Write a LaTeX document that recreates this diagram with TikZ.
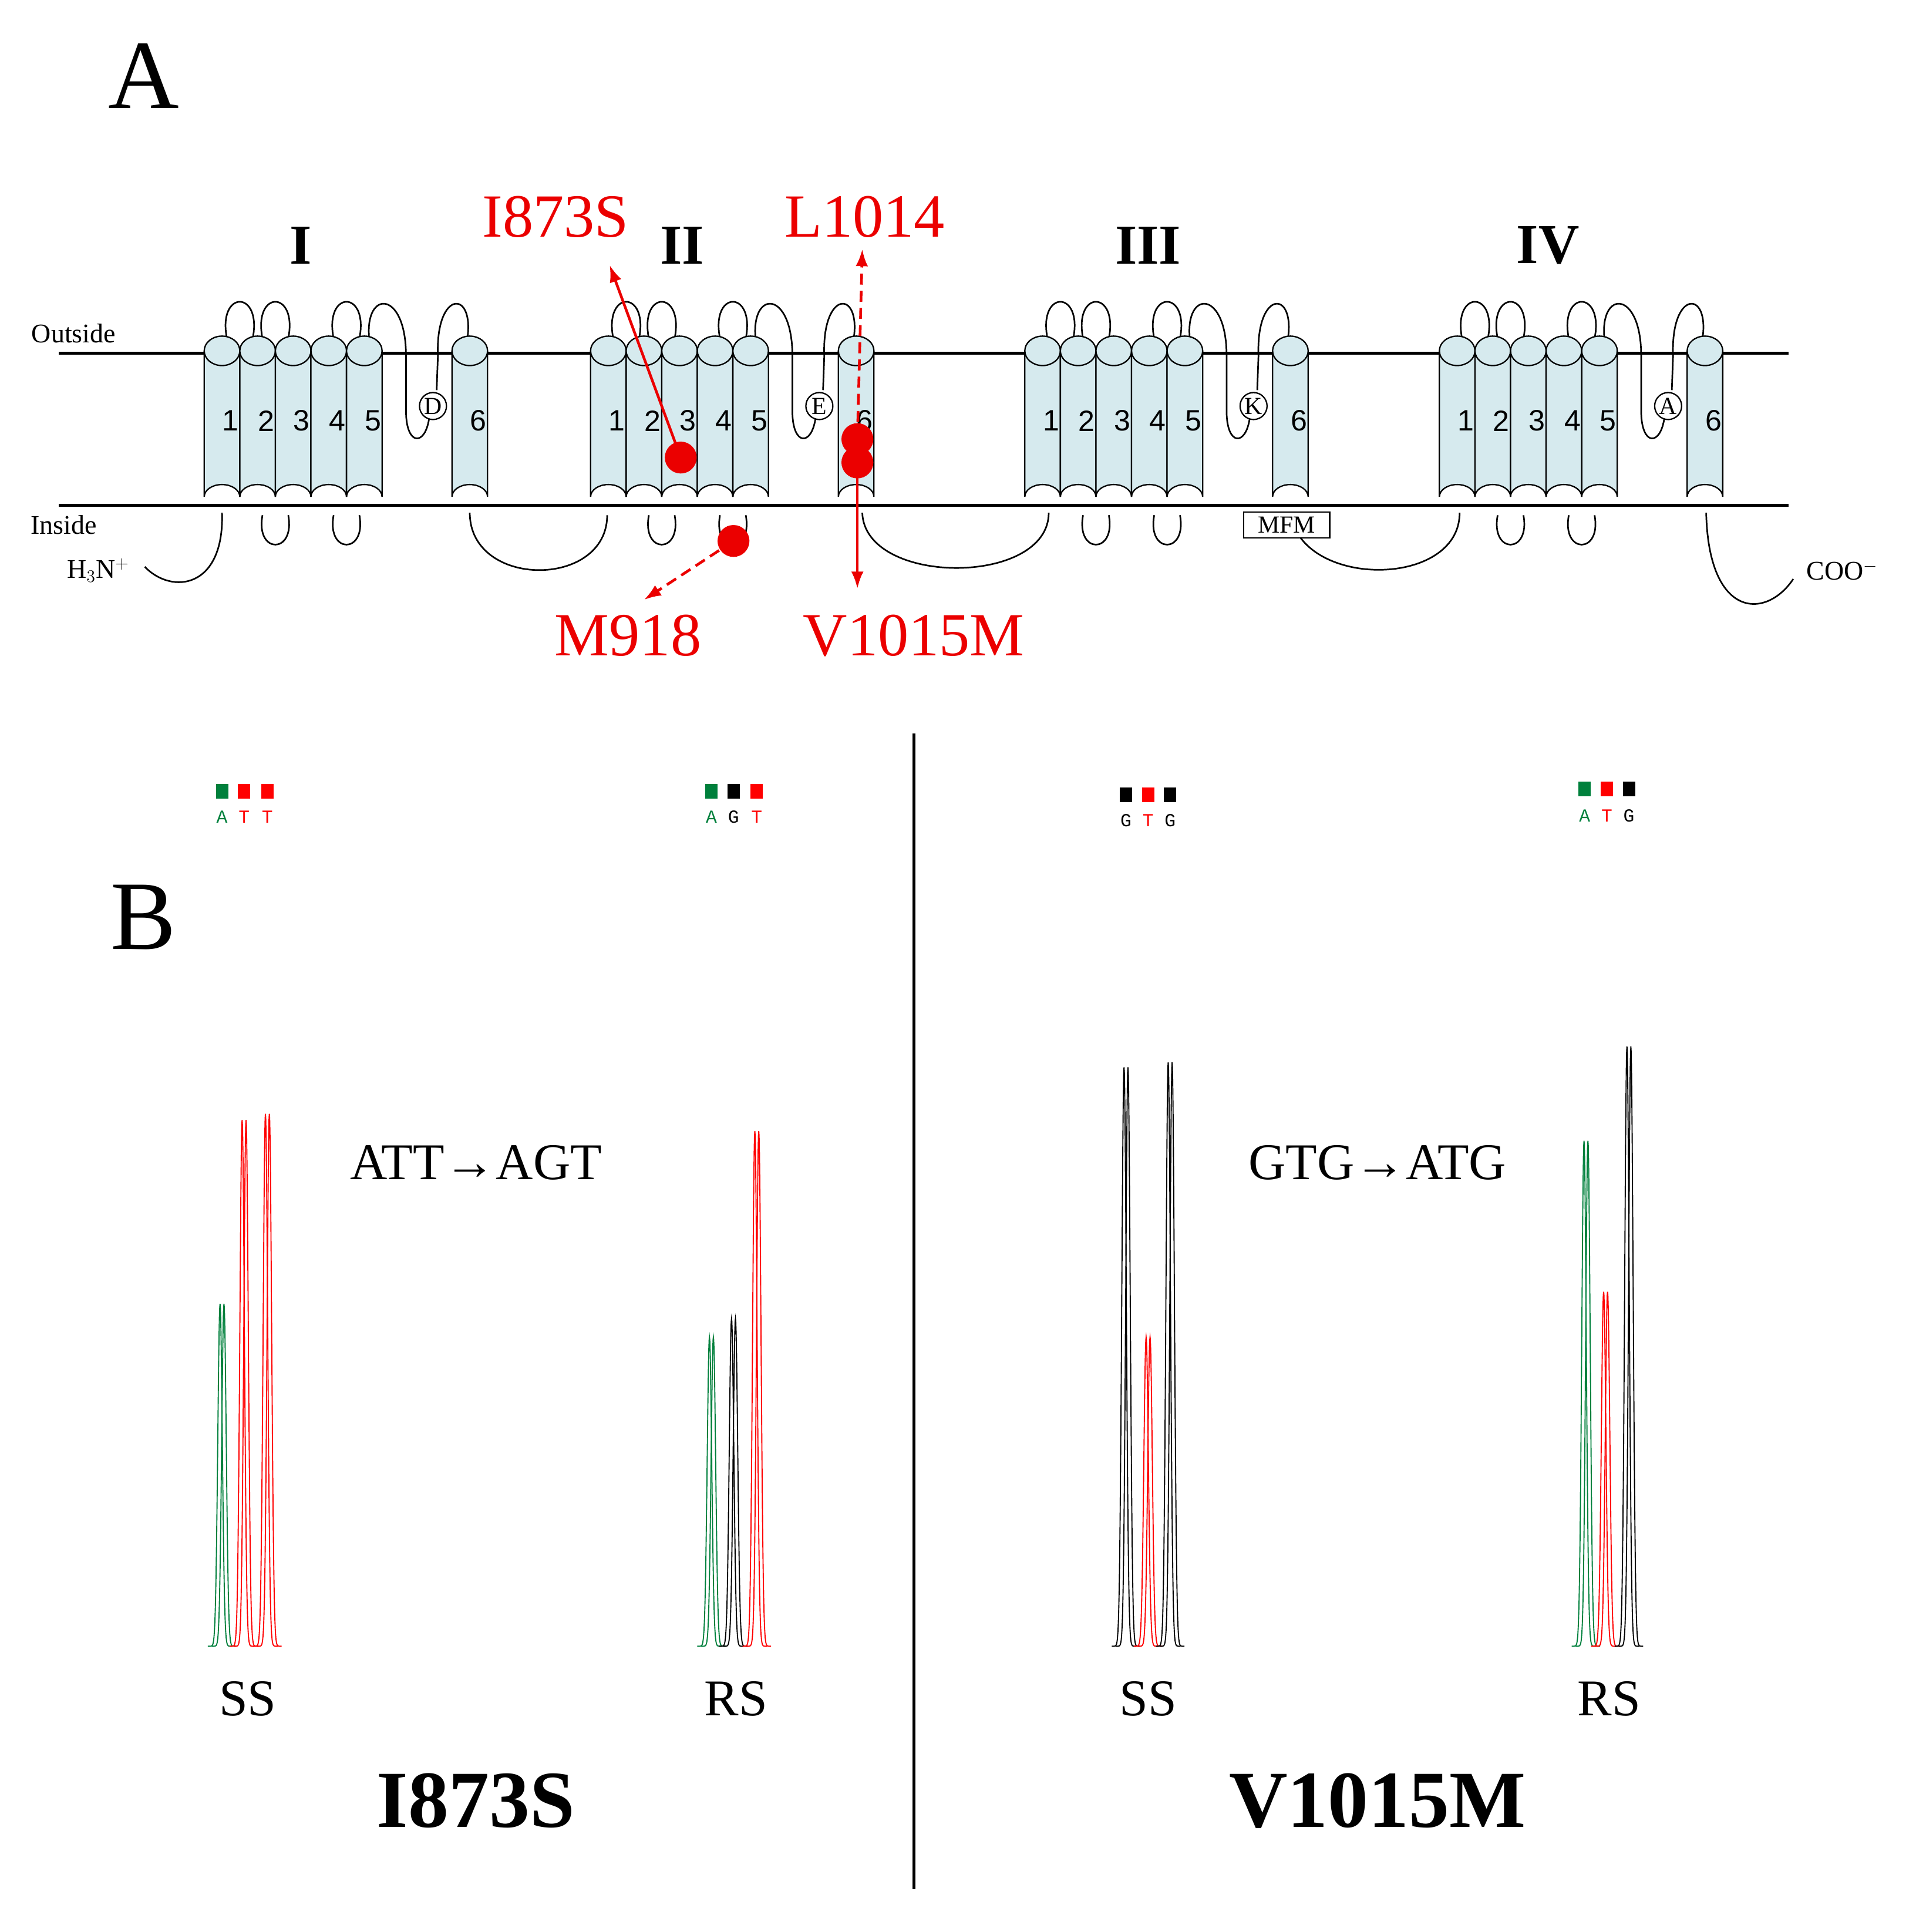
\documentclass[tikz,border=0pt]{standalone}
\usepackage{fontspec}
\usetikzlibrary{arrows.meta}
\setmainfont{Liberation Serif}
\newfontfamily\sansf{Liberation Sans}
\newfontfamily\monof{Liberation Mono}
\begin{document}
\begin{tikzpicture}[x=1pt,y=-1pt,
  lp/.style={draw=black,line width=1.3pt},
  mem/.style={draw=black,line width=2.4pt},
  dot/.style={circle,fill=mred,inner sep=0pt,minimum size=26pt},
  lbl/.style={text=mred,font=\fontsize{50}{50}\selectfont},
  rom/.style={font=\fontsize{46}{46}\selectfont\bfseries},
  num/.style={font=\sansf\fontsize{24}{24}\selectfont},
  circ/.style={circle,draw=black,line width=1.1pt,fill=white,inner sep=0pt,minimum size=22pt,font=\fontsize{20}{20}\selectfont},
  bt/.style={font=\fontsize{42}{42}\selectfont},
  big/.style={font=\fontsize{66}{66}\selectfont\bfseries},
  base/.style={font=\monof\fontsize{15}{15}\selectfont},
  marr/.style={mred,line width=2.2pt,-{Latex[length=14pt,width=10pt]}},
  mdash/.style={marr,dash pattern=on 9pt off 5pt}]
\definecolor{helixc}{RGB}{214,234,238}
\colorlet{mred}{red!92!black}
\definecolor{cgreen}{RGB}{0,128,60}
\useasboundingbox (0,0) rectangle (1562,1575);
% membrane
\draw[mem] (48,288) -- (1458,288);
\draw[mem] (48,412) -- (1458,412);
\newcommand{\helix}[2]{%
  \fill[helixc] ({#1-14.5},286) -- ({#1-14.5},405) arc[start angle=180,end angle=360,x radius=14.5,y radius=10] -- ({#1+14.5},286) -- cycle;
  \draw[line width=1.1pt] ({#1-14.5},286) -- ({#1-14.5},405) arc[start angle=180,end angle=360,x radius=14.5,y radius=10] -- ({#1+14.5},286);
  \draw[line width=1.1pt,fill=helixc] (#1,286) ellipse[x radius=14.5,y radius=12];
  \node[num] at ({#1+7},343) {#2};}
\newcommand{\domain}[2]{%
  \foreach \k in {0,1,3} {\draw[lp] ({#1+29*\k+4},276) .. controls ({#1+29*\k-4},236) and ({#1+29*\k+33},236) .. ({#1+29*\k+25},276);}
  \foreach \k in {1,3} {\draw[lp] ({#1+29*\k+4},420) .. controls ({#1+29*\k-2},452) and ({#1+29*\k+31},452) .. ({#1+29*\k+25},420);}
  \draw[lp] ({#1+116+4},276) .. controls ({#1+116},236) and ({#1+116+34},236) .. ({#1+116+34},290) -- ({#1+116+34},335) .. controls ({#1+116+34},364) and ({#1+116+50},364) .. ({#1+116+53},340);
  \draw[lp] ({#1+116+59},318) -- ({#1+116+60},290) .. controls ({#1+116+58},236) and ({#1+116+90},236) .. ({#1+202-2},276);
  \foreach \k in {0,...,4} {\pgfmathtruncatemacro\n{\k+1}\helix{#1+29*\k}{\n}}
  \helix{#1+202}{6}
  \node[circ] at ({#1+116+56},331) {#2};}
% inter-domain loops
\draw[lp] (181,418) .. controls (183,480) and (140,485) .. (118,462);
\draw[lp] (383,418) .. controls (383,480) and (495,480) .. (495,420);
\draw[lp] (703,418) .. controls (705,478) and (855,478) .. (855,418);
\draw[lp] (1052,418) .. controls (1060,480) and (1190,480) .. (1190,418);
\draw[lp] (1391,418) .. controls (1393,505) and (1440,505) .. (1462,472);
\domain{181}{D}
\domain{496}{E}
\domain{850}{K}
\domain{1188}{A}
\node[draw=black,line width=1.1pt,fill=white,inner sep=1pt,minimum width=70pt,minimum height=21pt,font=\fontsize{20}{20}\selectfont] (mfm) at (1049,428) {MFM};
% labels
\node[font=\fontsize{80}{80}\selectfont] (A) at (117,62) {A};
\node[rom] (d1) at (245,200) {I};
\node[rom] (d2) at (556,200) {II};
\node[rom] (d3) at (936,200) {III};
\node[rom] (d4) at (1262,200) {IV};
\node[font=\fontsize{22}{22}\selectfont] (out) at (60,272) {Outside};
\node[font=\fontsize{22}{22}\selectfont] (in) at (52,428) {Inside};
\node[font=\fontsize{22}{22}\selectfont] (nt) at (80,465) {H$_3$N$^+$};
\node[font=\fontsize{22}{22}\selectfont] (ct) at (1502,465) {COO$^-$};
% mutations
\node[dot] (m1) at (555,373) {};
\node[dot] (m2) at (598,441) {};
\node[dot] (m3) at (699,358) {};
\node[dot] (m4) at (699,377) {};
\node[lbl] (l1) at (453,177) {I873S};
\node[lbl] (l2) at (705,177) {L1014};
\node[lbl] (l3) at (512,518) {M918};
\node[lbl] (l4) at (745,518) {V1015M};
\coordinate (e1) at (497,216);
\coordinate (e2) at (703,203);
\coordinate (e3) at (525,489);
\coordinate (e4) at (699,480);
\draw[marr] (m1.center) -- (e1);
\draw[mdash] (m3.center) -- (e2);
\draw[mdash] (m2.center) -- (e3);
\draw[marr] (m4.center) -- (e4);
% part B
\draw[line width=2.4pt] (745,598) -- (745,1540);
\node[font=\fontsize{80}{80}\selectfont] (B) at (117,748) {B};
\newcommand{\sq}[3]{\fill[#3] ({#1-5},{#2-6}) rectangle ({#1+5},{#2+6});}
\newcommand{\bl}[4]{\node[base,text=#4] at (#1,#2) {#3};}
\sq{181}{645}{cgreen}\sq{199}{645}{red}\sq{218}{645}{red}
\bl{181}{666}{A}{cgreen}\bl{199}{666}{T}{red}\bl{218}{666}{T}{red}
\sq{580}{645}{cgreen}\sq{598}{645}{black}\sq{617}{645}{red}
\bl{580}{666}{A}{cgreen}\bl{598}{666}{G}{black}\bl{617}{666}{T}{red}
\sq{918}{648}{black}\sq{936}{648}{red}\sq{954}{648}{black}
\bl{918}{669}{G}{black}\bl{936}{669}{T}{red}\bl{954}{669}{G}{black}
\sq{1292}{643}{cgreen}\sq{1310}{643}{red}\sq{1328}{643}{black}
\bl{1292}{665}{A}{cgreen}\bl{1310}{665}{T}{red}\bl{1328}{665}{G}{black}
\newcommand{\peak}[3]{%
  \foreach \o in {-1.6,1.6} {\draw[#3,line width=0.9pt] plot[domain=-10:10,samples=81] ({#1+\o+\x},{1342-(1342-#2)*exp(-(\x/2.6)^2)});}}
\peak{181}{1063}{cgreen}\peak{199}{913}{red}\peak{218}{908}{red}
\peak{580}{1090}{cgreen}\peak{598}{1075}{black}\peak{617}{922}{red}
\peak{918}{870}{black}\peak{936}{1090}{red}\peak{954}{866}{black}
\peak{1293}{930}{cgreen}\peak{1309}{1053}{red}\peak{1328}{853}{black}
\node[bt] (c1) at (388,948) {ATT→AGT};
\node[bt] (c2) at (1123,948) {GTG→ATG};
\node[bt] (s1) at (202,1385) {SS};
\node[bt] (r1) at (600,1385) {RS};
\node[bt] (s2) at (936,1385) {SS};
\node[bt] (r2) at (1312,1385) {RS};
\node[big] (g1) at (388,1468) {I873S};
\node[big] (g2) at (1123,1468) {V1015M};
\end{tikzpicture}
\end{document}
